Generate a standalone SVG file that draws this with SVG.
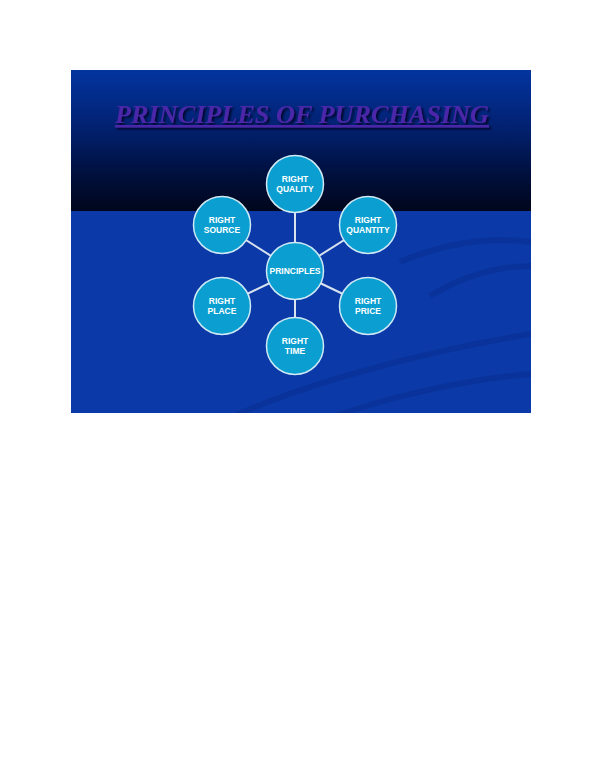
<svg xmlns="http://www.w3.org/2000/svg" width="600" height="776" viewBox="0 0 600 776">
<defs>
<linearGradient id="top" x1="0" y1="0" x2="0" y2="1">
<stop offset="0" stop-color="#03349e"/>
<stop offset="0.35" stop-color="#022478"/>
<stop offset="0.75" stop-color="#000f3c"/>
<stop offset="1" stop-color="#00061c"/>
</linearGradient>
<clipPath id="slide"><rect x="71" y="211" width="460" height="202"/></clipPath>
<filter id="shadow" x="-5%" y="-30%" width="110%" height="160%">
<feDropShadow dx="2" dy="2" stdDeviation="0.8" flood-color="#050520" flood-opacity="0.85"/>
</filter>
<style>
.node circle{fill:#0a9fd0;stroke:#cfe9f5;stroke-width:1.5}
.node text{font-family:"Liberation Sans",Arial,sans-serif;font-weight:bold;font-size:8.5px;fill:#ffffff;text-anchor:middle}
.conn line{stroke:#d8e2ee;stroke-width:2}
.swoosh{fill:none;stroke:#062c8c;stroke-width:6;opacity:0.45}
.title{font-family:"Liberation Serif","Times New Roman",serif;font-weight:bold;font-style:italic;font-size:25px;text-decoration:underline}
</style>
</defs>
<rect width="600" height="776" fill="#ffffff"/>
<rect x="71" y="70" width="460" height="343" fill="#0b3aa8"/>
<rect x="71" y="70" width="460" height="141" fill="url(#top)"/>
<g clip-path="url(#slide)">
<path class="swoosh" d="M400,262 C440,245 485,236 531,242"/>
<path class="swoosh" d="M430,296 C460,278 495,266 531,266"/>
<path class="swoosh" d="M225,420 C300,385 420,352 531,334"/>
<path class="swoosh" d="M325,420 C380,399 460,380 531,374"/>
</g>
<text class="title" x="115" y="123" fill="#4b28a8" filter="url(#shadow)" textLength="374" lengthAdjust="spacingAndGlyphs">PRINCIPLES OF PURCHASING</text>
<g class="conn">
<line x1="295" y1="184" x2="295" y2="271"/>
<line x1="295" y1="346" x2="295" y2="271"/>
<line x1="222" y1="225" x2="295" y2="271"/>
<line x1="368" y1="225" x2="295" y2="271"/>
<line x1="222" y1="306" x2="295" y2="271"/>
<line x1="368" y1="306" x2="295" y2="271"/>
</g>
<g id="principles" class="node"><circle cx="295" cy="271" r="28.5"/><text x="295" y="274">PRINCIPLES</text></g>
<g id="quality" class="node"><circle cx="295" cy="184" r="28.5"/><text x="295" y="182">RIGHT</text><text x="295" y="192">QUALITY</text></g>
<g id="source" class="node"><circle cx="222" cy="225" r="28.5"/><text x="222" y="223">RIGHT</text><text x="222" y="233">SOURCE</text></g>
<g id="quantity" class="node"><circle cx="368" cy="225" r="28.5"/><text x="368" y="223">RIGHT</text><text x="368" y="233">QUANTITY</text></g>
<g id="place" class="node"><circle cx="222" cy="306" r="28.5"/><text x="222" y="304">RIGHT</text><text x="222" y="314">PLACE</text></g>
<g id="price" class="node"><circle cx="368" cy="306" r="28.5"/><text x="368" y="304">RIGHT</text><text x="368" y="314">PRICE</text></g>
<g id="time" class="node"><circle cx="295" cy="346" r="28.5"/><text x="295" y="344">RIGHT</text><text x="295" y="354">TIME</text></g>
</svg>
